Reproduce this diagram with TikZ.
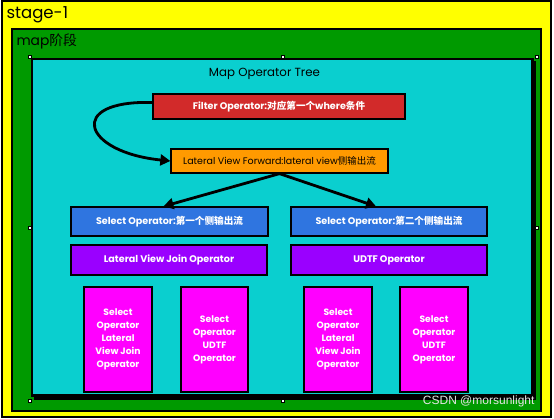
\documentclass[tikz,border=0pt]{standalone}
\usepackage{fontspec}
\setmainfont{Poppins}
\newfontfamily\cjk{Noto Sans CJK SC}
\newfontfamily\wmfont{Liberation Sans}
\usetikzlibrary{arrows.meta}
\definecolor{cyellow}{HTML}{FFFF00}
\definecolor{cgreen}{HTML}{009A00}
\definecolor{ccyan}{HTML}{0ACFCF}
\definecolor{cred}{HTML}{D22A2A}
\definecolor{corange}{HTML}{FF9A00}
\definecolor{cblue}{HTML}{2F75E0}
\definecolor{cpurple}{HTML}{9A00FF}
\definecolor{cmag}{HTML}{FF00FF}
\tikzset{
  opbox/.style={draw=black, line width=1.3pt, inner sep=0pt, align=center, font=\bfseries\fontsize{9.6}{11}\selectfont, text=white},
  tallbox/.style={opbox, minimum width=68pt, minimum height=105pt, fill=cmag, font=\bfseries\fontsize{9.2}{13}\selectfont},
  flowarrow/.style={line width=2.8pt, -{Triangle[length=10pt,width=11pt]}},
  handle/.style={draw=black, fill=white, line width=0.4pt, minimum size=3pt, inner sep=0pt}
}
\begin{document}
\begin{tikzpicture}[x=1pt,y=-1pt]
\useasboundingbox (0,0) rectangle (554,419);
% outer stage
\draw[fill=cyellow, line width=2pt] (1.5,1.5) rectangle (551,417);
\node[anchor=west, font=\fontsize{16.5}{18}\selectfont] (stage) at (3,14.5) {stage-1};
% map stage
\draw[fill=cgreen, line width=2pt] (11.5,29.5) rectangle (541,410.5);
\node[anchor=west, font=\fontsize{13.8}{15}\selectfont] (mapt) at (13,41) {map{\cjk 阶段}};
% operator tree panel
\fill[black] (34,61) rectangle (536,399.5);
\draw[fill=ccyan, line width=2.5pt] (32,59) rectangle (532.5,395.5);
\node[font=\fontsize{11.8}{13}\selectfont] (title) at (264.5,73.5) {Map Operator Tree};
% boxes
\node[opbox, fill=cred, minimum width=252pt, minimum height=25pt] (filt) at (279,106.5) {Filter Operator:{\cjk 对应第一个}where{\cjk 条件}};
\node[opbox, fill=corange, text=black, font=\fontsize{9.5}{11}\selectfont, minimum width=217pt, minimum height=24pt] (lvf) at (279.5,161) {Lateral View Forward:lateral view{\cjk 侧输出流}};
\node[opbox, fill=cblue, minimum width=197pt, minimum height=29pt] (sel1) at (169.5,221.5) {Select Operator:{\cjk 第一个侧输出流}};
\node[opbox, fill=cblue, minimum width=196pt, minimum height=29pt] (sel2) at (389,221.5) {Select Operator:{\cjk 第二个侧输出流}};
\node[opbox, fill=cpurple, minimum width=196pt, minimum height=30pt] (lvj) at (169,260) {Lateral View Join Operator};
\node[opbox, fill=cpurple, minimum width=196pt, minimum height=30pt] (udtf) at (389,260) {UDTF Operator};
\node[tallbox] (m1) at (118,339.5) {Select\\Operator\\Lateral\\View Join\\Operator};
\node[tallbox, minimum width=67pt] (m2) at (214.5,339.5) {Select\\Operator\\UDTF\\Operator};
\node[tallbox] (m3) at (338,339.5) {Select\\Operator\\Lateral\\View Join\\Operator};
\node[tallbox] (m4) at (434,339.5) {Select\\Operator\\UDTF\\Operator};
% connectors
\draw[flowarrow] ([yshift=4pt]filt.west) .. controls (66,100) and (82,152) .. (lvf.west);
\draw[flowarrow] (lvf.south) -- ([xshift=-6pt]sel1.north);
\draw[flowarrow] (lvf.south) -- ([xshift=-13pt]sel2.north);
% selection handles
\node[handle] (h1) at (30,57) {};
\node[handle] (h2) at (283,57) {};
\node[handle] (h3) at (537,57) {};
\node[handle] (h4) at (30,228) {};
\node[handle] (h5) at (537,228) {};
\node[handle] (h6) at (30,401) {};
\node[handle] (h7) at (283,401) {};
% watermark
\node[anchor=east, text=white!80!gray, font=\wmfont\fontsize{12}{14}\selectfont] (wm) at (538,401) {CSDN @morsunlight};
\end{tikzpicture}
\end{document}
